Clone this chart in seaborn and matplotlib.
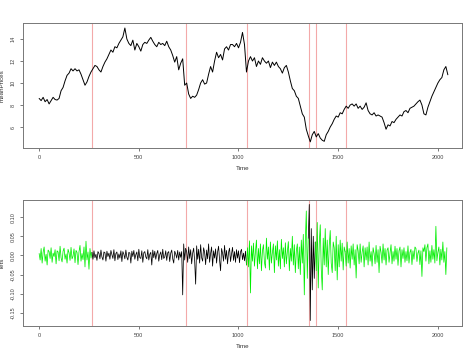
import numpy as np
import pandas as pd
import matplotlib
matplotlib.use("Agg")
import matplotlib.pyplot as plt
import seaborn as sns

# mean prices, one value every 10 time steps (t = 1, 11, 21, ...)
prices = [
    8.6, 8.4, 8.7, 8.3, 8.5, 8.1, 8.4, 8.7, 8.5, 8.45,
    8.6, 9.3, 9.6, 10.2, 10.7, 10.9, 11.3, 11.1, 11.3, 11.1,
    11.2, 10.8, 10.3, 9.8, 10.1, 10.6, 11.0, 11.3, 11.6, 11.5,
    11.2, 11.0, 11.5, 11.9, 12.2, 12.6, 13.0, 12.8, 13.3, 13.2,
    13.6, 13.9, 14.2, 15.0, 14.0, 13.6, 13.4, 13.9, 13.0, 13.6,
    13.3, 12.9, 13.5, 13.7, 13.6, 13.9, 14.15, 13.8, 13.5, 13.3,
    13.7, 13.5, 13.6, 13.4, 13.8, 13.3, 13.0, 12.5, 11.9, 12.4,
    11.2, 11.8, 12.2, 9.8, 10.0, 9.0, 8.6, 8.8, 8.7, 8.9,
    9.4, 10.0, 10.3, 9.9, 10.0, 10.8, 11.5, 11.0, 12.0, 12.8,
    12.3, 12.6, 12.1, 13.1, 13.3, 13.0, 13.5, 13.5, 13.3, 13.6,
    13.2, 13.7, 14.6, 13.5, 11.0, 12.0, 12.4, 12.0, 12.3, 11.5,
    12.0, 11.7, 12.3, 12.0, 11.8, 12.0, 11.4, 11.9, 11.6, 11.9,
    11.5, 11.3, 10.9, 11.4, 11.6, 11.0, 10.2, 9.5, 9.3, 8.8,
    8.6, 7.9, 7.2, 6.9, 5.8, 5.2, 4.65, 5.3, 5.6, 5.1,
    5.4, 5.0, 4.8, 4.7, 5.3, 5.6, 6.0, 6.3, 6.7, 7.0,
    6.9, 7.3, 7.2, 7.6, 7.9, 7.7, 8.0, 8.1, 7.9, 8.1,
    7.7, 7.9, 7.6, 7.8, 8.2, 7.5, 7.2, 7.1, 7.3, 7.0,
    7.1, 7.0, 6.9, 6.4, 5.8, 6.2, 6.1, 6.5, 6.4, 6.7,
    6.9, 7.1, 7.0, 7.4, 7.5, 7.3, 7.7, 7.8, 7.9, 8.1,
    8.3, 8.45, 8.0, 7.2, 7.1, 7.8, 8.3, 8.8, 9.2, 9.6,
    10.0, 10.3, 10.5, 11.2, 11.5, 10.75,
]

# returns in thousandths, one value every 5 time steps (t = 1, 6, 11, ...)
rets_x1000 = [
    5, -12, 18, -20, 8, 22, -15, 3, -25, 14,
    10, -8, 20, -18, 6, -3, 15, -22, 12, 9,
    -14, 24, -6, -17, 11, 19, -10, 4, -20, 16,
    7, -13, 21, -9, -2, 17, -19, 13, 8, -24,
    10, 26, -15, 5, -11, 22, -30, 37, -12, 9,
    -36, 18, -7,
    8, -10, 12, -6, 3, -13, 10, 5, -9, 14,
    -4, -12, 9, 7, -15, 11, -3, 6, -10, 13,
    2, -8, 15, -14, 5, 9, -11, 4, -7, 12,
    -16, 10, 3, -9, 14, -5, -12, 8, 6, -20,
    11, -3, 13, -10, 2, 9, -14, 16, -6, -8,
    12, -18, 7, 10, -4, -9, 15, -12, 3, 8,
    -25, 14, -6, 11, -10, 5, 13, -15, 2, 9,
    -11, 16, -8, -4, 12, -13, 7, 10, -16, 6,
    14, -9, -20, 11, 4, -7, 13, -12, 9, -5,
    10,
    -103, 30, -12, 18,
    10, -18, 22, -8, 15, -22, 6, 19, -14, -75,
    25, -10, 16, -20, 28, -6, -15, 20, 8, -24,
    14, -9, 30, -18, 5, 22, -28, 12, -7, 17,
    -20, 9, 24, -12, -40, 18, 6, -15, 26, -10,
    13, -22, 8, 19, -16, 4, 21, -13, 10, -18,
    15, -7, 12, -19, 9, 16, -11, 6, -14, 11,
    -25,
    20, -30, 38, -98, 25, -15, 32, -28, 10, 40,
    -35, 18, -22, 30, -40, 12, 28, -18, -33, 45,
    -10, 22, -38, 35, -20, 8, 30, -45, 25, -12,
    38, -28, 15, -35, 42, -8, 20, -30, 33, -22,
    10, 36, -40, 18, -15, 50, -25, 28, -45, 12,
    30, -35, 22, -50, 40, -20, 55, -103, 35, 116,
    -60, 45,
    133, -170, 70, -90, 50, -60, 35,
    -40, 86, -85, 30, 80, -35, -90, 45, -25, 70,
    -30, 40, -50, 25, 65, -20, -45, 35, 20, -40,
    50, -64, 28, -30, 40, -15, 32, -38, 22, 10,
    -28, 35, -20, 18, -33, 25, -10, 30, -25, 15,
    -59, 28, 12, -22, 30, -18, 8, 25, -30, 20,
    -12, 22, -25, 35, -15, 10, -28, 20, 5, -22,
    26, -18, 15, -45, 24, 8, -20, 30, -12, 18,
    -25, 14, 20, -18, 6, 28, -22, 10, -15, 24,
    -10, 18, -26, 12, 22, -30, 15, -8, 20, -18,
    10, -14, 25, -20, 8, 16, -24, 12, -10, 22,
    18, -16, 6, 14, -24, 12, -55, 20, 10, 28,
    -15, 20, 30, -22, 12, -18, 26, -10, 15, -20,
    76, -14, 8, 22, -25, 16, -12, 35, -18, 10,
    -50, 20,
]

# structural break times (red lines) and colour of each regime between them
break_times = [266, 738, 1044, 1355, 1390, 1540]
regime_colors = ["#00ee00", "black", "black", "#00ee00", "black", "#00ee00", "#00ee00"]

price_df = pd.DataFrame({"Time": np.arange(1, 10 * len(prices), 10), "price": prices})
rets_df = pd.DataFrame({"Time": np.arange(1, 5 * len(rets_x1000), 5),
                        "rets": np.array(rets_x1000) / 1000})
rets_df["regime"] = np.searchsorted(break_times, rets_df["Time"])

sns.set_style("ticks")
plt.rcParams["font.family"] = ["Liberation Sans", "DejaVu Sans"]

fig = plt.figure(figsize=(4.74, 3.55), dpi=100)
ax1 = fig.add_axes([0.0485, 0.583, 0.9262, 0.352])
ax2 = fig.add_axes([0.0485, 0.082, 0.9262, 0.355])

# top panel: prices
sns.lineplot(data=price_df, x="Time", y="price", color="black", lw=0.7, ax=ax1)

# bottom panel: returns coloured by regime
for r, grp in rets_df.groupby("regime"):
    prev = rets_df[rets_df.index == grp.index[0] - 1]
    seg = pd.concat([prev, grp]) if r > 0 else grp
    sns.lineplot(data=seg, x="Time", y="rets", color=regime_colors[r],
                 lw=0.55, ax=ax2, sort=False)

for ax in (ax1, ax2):
    for b in break_times:
        ax.axvline(b, color="#f3a9a9", lw=0.8, zorder=0)
    ax.set_xlim(-80, 2122)
    ax.set_xticks([0, 500, 1000, 1500, 2000])
    for s in ax.spines.values():
        s.set_visible(True)
        s.set_color("#777777")
        s.set_linewidth(0.7)
    ax.tick_params(length=2.2, width=0.5, colors="#444444", labelsize=4, pad=2.8)
    ax.tick_params(axis="y", pad=3.2)
    ax.set_xlabel("Time", fontsize=4.5, labelpad=4.5, color="#333333")

ax1.set_ylim(4.09, 15.45)
ax1.set_yticks([6, 8, 10, 12, 14])
ax1.set_ylabel("meanPrices", fontsize=4.5, labelpad=4, color="#333333")
ax2.set_ylim(-0.184, 0.145)
ax2.set_yticks([-0.15, -0.10, -0.05, 0.00, 0.05, 0.10])
ax2.set_yticklabels(["-0.15", "-0.10", "-0.05", "0.00", "0.05", "0.10"])
ax2.set_ylabel("rets", fontsize=4.5, labelpad=4, color="#333333")
for ax in (ax1, ax2):
    for lab in ax.get_yticklabels():
        lab.set_rotation(90)
        lab.set_va("center")

fig.savefig("out.png", dpi=100)
